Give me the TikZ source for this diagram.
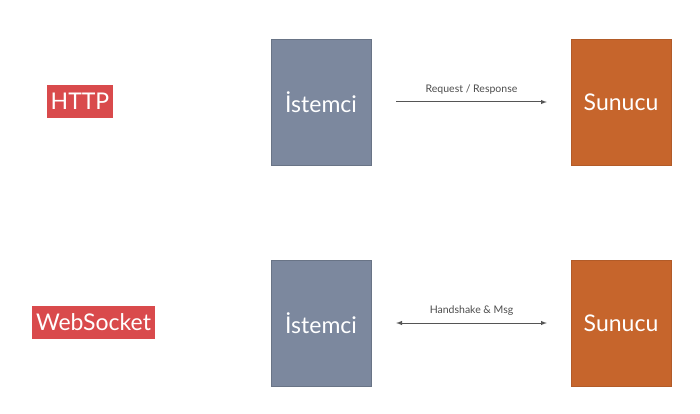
\documentclass[tikz,border=0pt]{standalone}
\usepackage{fontspec}
\setmainfont{Lato}
\usepackage{tikz}
\usetikzlibrary{arrows.meta}
\tikzset{>=latex}
\definecolor{clientgray}{HTML}{7C889E}
\definecolor{serverorange}{HTML}{C6652C}
\definecolor{tagred}{HTML}{D94A4C}
\definecolor{arrowgray}{HTML}{555555}
\tikzset{
  party/.style={minimum width=100pt,minimum height=126pt,inner sep=0pt,
    text=white,font=\fontsize{23}{26}\selectfont},
  client/.style={party,fill=clientgray,draw=clientgray!85!black},
  server/.style={party,fill=serverorange,draw=serverorange!90!black},
  tag/.style={fill=tagred,text=white,inner sep=1.5pt,minimum height=33pt,
    font=\fontsize{23}{26}\selectfont},
  msg/.style={font=\fontsize{10.5}{12}\selectfont,text=arrowgray!90!black}
}

\begin{document}
\begin{tikzpicture}[x=1pt,y=-1pt]
    \useasboundingbox (0,0) rectangle (700,414);
    \node[tag,minimum width=66pt] (http) at (80,101.5) {HTTP};
    \node[client] (ist1) at (321,102) {İstemci};
    \node[server] (sun1) at (621,102) {Sunucu};
    \draw[thick,arrowgray,line width=1pt,->] ([xshift=25pt]ist1.east) --
      node[msg,above=4pt]{Request / Response} ([xshift=-24pt]sun1.west);
    \begin{scope}[yshift=-221pt]
      \node[tag,minimum width=123pt] (ws) at (93.5,101.5) {WebSocket};
      \node[client] (ist2) at (321,102) {İstemci};
      \node[server] (sun2) at (621,102) {Sunucu};
      \draw[arrowgray,line width=1pt,<->] ([xshift=25pt]ist2.east) --
        node[msg,above=4pt]{Handshake \& Msg} ([xshift=-24pt]sun2.west);
    \end{scope}
  \end{tikzpicture}
\end{document}
